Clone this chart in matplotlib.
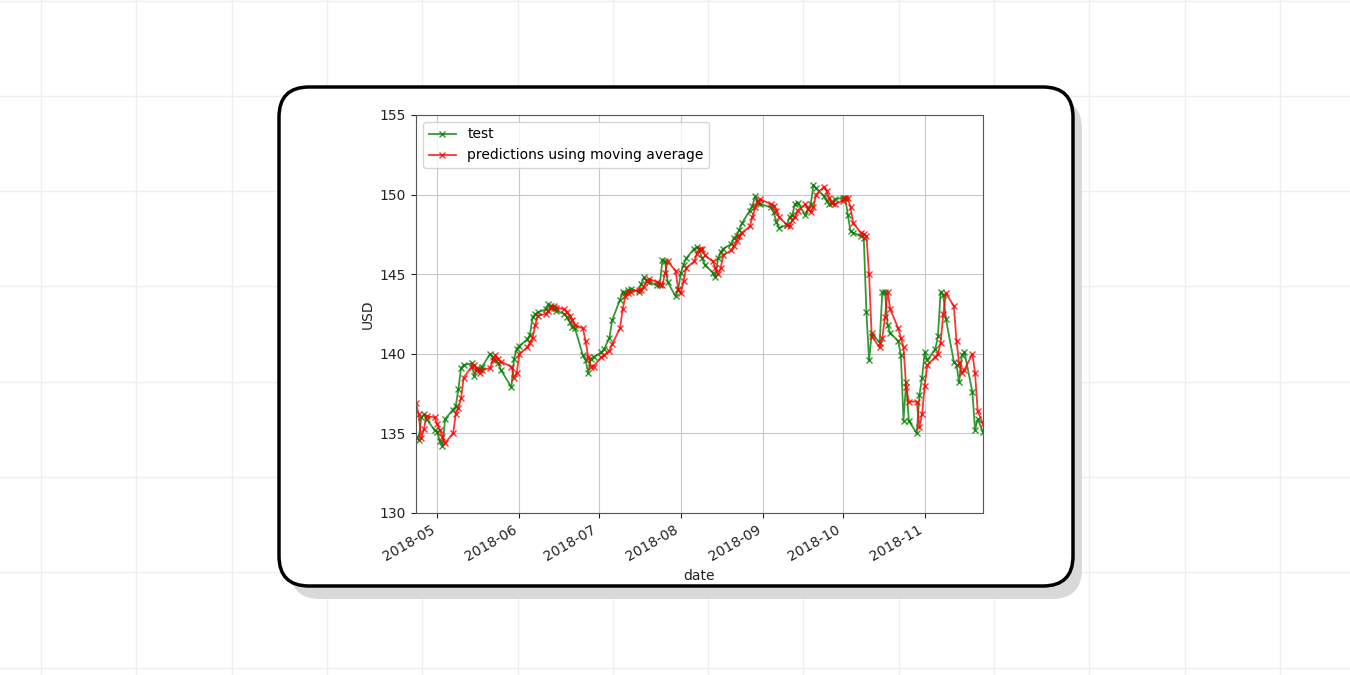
import matplotlib
matplotlib.use("Agg")
import matplotlib.dates as mdates
import matplotlib.pyplot as plt
import numpy as np
import pandas as pd
from matplotlib.patches import FancyBboxPatch

# trading days shown on the x axis
start_day = "2018-04-23"
end_day = "2018-11-23"
market_holidays = ["2018-05-28", "2018-07-04", "2018-09-03", "2018-11-22"]

# closing price (test set)
test_values = [
    134.8, 134.6, 136.0, 136.2, 135.9, 135.2,
    135.1, 134.5, 134.2, 135.9, 136.5, 136.7, 137.8, 139.1, 139.3, 139.4,
    138.6, 139.1, 139.0, 139.2, 140.0, 139.8, 139.6, 139.4, 139.0, 137.9,
    139.7, 140.3,
    140.5, 140.9, 141.2, 142.3, 142.5, 142.6, 142.8, 143.1, 143.0, 142.9,
    142.7, 142.5, 142.3, 142.0, 141.7, 141.6, 139.9, 139.6, 138.8, 139.7,
    139.8,
    140.1, 140.3, 141.0, 142.1, 143.4, 143.9, 143.8, 144.0, 144.1, 143.9,
    144.4, 144.8, 144.6, 144.5, 144.3, 144.3, 145.9, 145.8, 144.5, 143.6,
    144.1,
    145.1, 145.6, 146.0, 146.6, 146.7, 146.5, 146.0, 145.6, 145.1, 144.8,
    146.0, 146.4, 146.6, 146.9, 147.3, 147.4, 147.8, 148.2, 149.0, 149.3,
    149.9, 149.5, 149.4,
    149.2, 148.9, 148.3, 147.9, 148.1, 148.6, 148.7, 149.4, 149.5, 148.7,
    149.1, 149.4, 150.6, 150.4, 149.9, 149.6, 149.4, 149.5, 149.7,
    149.8, 149.8, 148.7, 147.7, 147.6, 147.4, 147.3, 142.6, 139.6, 141.3,
    140.7, 143.9, 143.9, 141.8, 141.3, 140.8, 139.9, 135.8, 138.2, 135.8,
    135.0, 137.4, 138.5,
    140.1, 139.6, 140.3, 141.1, 143.9, 143.7, 142.2, 139.5, 139.3, 138.2,
    139.9, 140.1, 137.6, 135.2, 135.9, 135.1,
]

# moving average predictions
pred_values = [
    136.9, 136.2, 134.7, 135.3, 136.1, 136.0,
    135.6, 135.2, 134.8, 134.4, 135.0, 136.2, 136.6, 137.2, 138.5, 139.2,
    139.3, 139.0, 138.8, 139.0, 139.1, 139.6, 139.9, 139.7, 139.5, 139.2,
    138.5, 138.8,
    140.0, 140.4, 140.7, 141.0, 141.8, 142.4, 142.5, 142.7, 142.9, 143.0,
    142.9, 142.8, 142.6, 142.4, 142.1, 141.8, 141.6, 140.8, 139.8, 139.2,
    139.2,
    139.8, 139.9, 140.2, 140.6, 141.6, 142.8, 143.6, 143.8, 143.9, 144.0,
    144.0, 144.2, 144.6, 144.7, 144.5, 144.4, 144.3, 145.1, 145.8, 145.2,
    144.0,
    143.8, 144.6, 145.4, 145.8, 146.3, 146.6, 146.6, 146.2, 145.8, 145.4,
    145.0, 145.4, 146.2, 146.5, 146.8, 147.1, 147.4, 147.6, 148.0, 148.6,
    149.2, 149.6, 149.7,
    149.4, 149.3, 149.0, 148.6, 148.1, 148.0, 148.4, 148.6, 149.0, 149.4,
    149.1, 148.9, 149.2, 150.0, 150.5, 150.2, 149.8, 149.5, 149.4,
    149.6, 149.8, 149.8, 149.2, 148.2, 147.6, 147.5, 147.4, 145.0, 141.1,
    140.4, 141.0, 142.3, 143.9, 142.8, 141.6, 141.0, 140.4, 137.9, 137.0,
    137.0, 135.4, 136.2,
    138.0, 139.3, 139.8, 140.0, 140.7, 142.5, 143.8, 143.0, 140.8, 139.4,
    138.8, 139.0, 140.0, 138.8, 136.4, 135.6,
]

y_ticks = [130, 135, 140, 145, 150, 155]

dates = pd.bdate_range(start_day, end_day, freq="C", holidays=market_holidays)

fig = plt.figure(figsize=(13.5, 6.75), dpi=100)

# background with light grid and the rounded card
bg = fig.add_axes([0, 0, 1, 1])
bg.set_xlim(0, 1350)
bg.set_ylim(675, 0)
bg.axis("off")
for gx in np.arange(41, 1350, 95.3):
    bg.axvline(gx, color="#efefef", lw=1, zorder=0)
for gy in np.arange(0.5, 675, 95.3):
    bg.axhline(gy, color="#efefef", lw=1, zorder=0)
shadow = FancyBboxPatch((290, 99), 792, 500, boxstyle="round,pad=0,rounding_size=30",
                        fc="#d9d9d9", ec="none", zorder=1)
card = FancyBboxPatch((279, 87), 794, 499, boxstyle="round,pad=0,rounding_size=30",
                      fc="white", ec="black", lw=2.5, zorder=2)
bg.add_patch(shadow)
bg.add_patch(card)

ax = fig.add_axes([416 / 1350, 1 - 513 / 675, 567 / 1350, 398 / 675])
ax.plot(dates, test_values, color="green", marker="x", ms=4.5, lw=1.3,
        alpha=0.8, label="test")
ax.plot(dates, pred_values, color="red", marker="x", ms=4.5, lw=1.3,
        alpha=0.8, label="predictions using moving average")

ax.set_xlim(dates[0], dates[-1])
ax.set_ylim(130, 155)
ax.set_yticks(y_ticks)
ax.xaxis.set_major_locator(mdates.MonthLocator())
ax.xaxis.set_major_formatter(mdates.DateFormatter("%Y-%m"))
for lab in ax.get_xticklabels():
    lab.set_rotation(30)
    lab.set_ha("right")
ax.tick_params(labelsize=10, colors="#222222")
ax.grid(True, color="#c8c8c8", lw=0.8)
for sp in ax.spines.values():
    sp.set_color("#555555")
ax.set_xlabel("date", fontsize=10, color="#222222")
ax.set_ylabel("USD", fontsize=10, color="#222222")
ax.legend(loc="upper left", fontsize=10)

fig.savefig("out.png", dpi=100)
